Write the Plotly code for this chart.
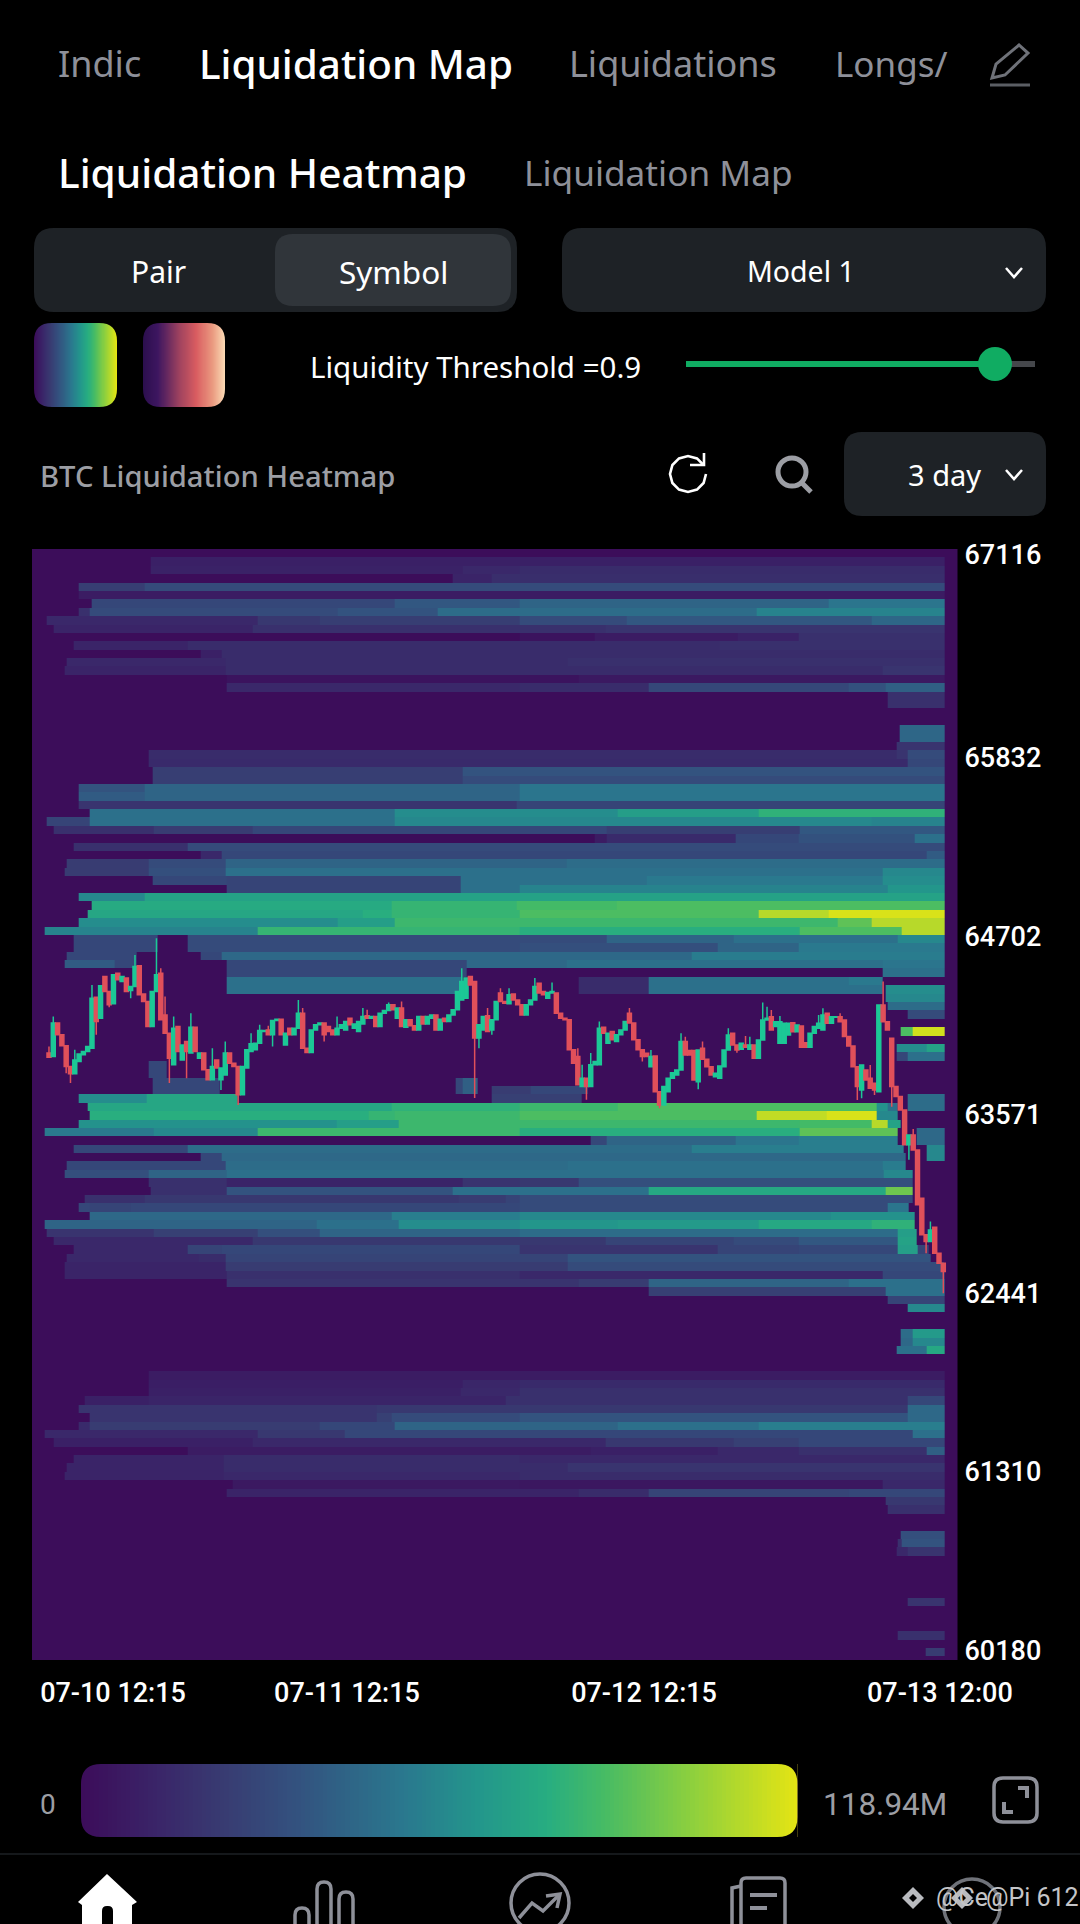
import numpy as np
import plotly.graph_objects as go

W, H = 1080, 1924
BG = "#000000"
PURPLE = "#3c0d5a"
GRAY = "#8e9099"
LIGHT = "#9c9ea4"
PANEL = "#1e2226"

# ---------- data ----------
Y_TICKS = [67116, 65832, 64702, 63571, 62441, 61310, 60180]
X_TICK_POS = [14.9, 69.3, 138.4, 207.2]
X_TICK_TEXT = ["07-10 12:15", "07-11 12:15", "07-12 12:15", "07-13 12:00"]
MAX_LIQ = 118.94
PRICE_TOP = 67154
PRICE_BIN = 53.14
HEAT_END = 208.3

OPEN = [63961,63939,64151,64077,64007,63876,63830,63908,63950,63971,63992,64315,64182,64446,64351,64273,64467,64415,64436,64357,
64383,64514,64336,64288,64129,64351,64467,64203,64087,63887,64129,63918,64034,63961,64125,63929,63961,63855,63792,63918,
63792,63823,63961,63897,63876,63697,63866,63971,63982,64024,64098,64108,64077,64167,64176,64013,64119,64077,64119,64214,
63992,63965,64108,64140,64151,64129,64108,64077,64119,64108,64182,64119,64098,64146,64197,64182,64193,64129,64214,64231,
64267,64182,64246,64125,64172,64134,64108,64193,64146,64182,64203,64108,64182,64161,64203,64235,64298,64309,64446,64414,
64056,64108,64197,64108,64172,64341,64288,64273,64336,64298,64267,64203,64267,64298,64404,64351,64309,64341,64341,64214,
64182,64172,63982,63939,63750,63802,63750,63887,63887,64125,64024,64098,64034,64077,64108,64214,64151,64045,63982,63960,
63875,63943,63717,63633,63717,63802,63823,63854,64034,63977,63977,63780,63992,63922,63875,63812,63802,63875,63981,64087,
64013,63985,64013,63985,64013,63928,64044,64171,64192,64129,64023,64023,64076,64154,64097,64133,64027,63998,64087,64118,
64108,64213,64150,64188,64192,64171,64066,64006,63875,63728,63854,63802,63770,63717,64266,64160,64055,63749,63686,63601,
63380,63443,63348,63042,62810,62768,62858,62694,62630]
CLOSE = [63935,64151,64077,64007,63876,63830,63918,63956,63971,64003,64309,64161,64387,64351,64267,64457,64425,64446,64351,64383,
64509,64330,64288,64129,64351,64457,64172,64087,63929,64119,63971,64013,63971,64125,63971,63961,63855,63792,63876,63866,
63866,63961,63897,63876,63697,63876,63982,64020,64024,64104,64104,64077,64167,64176,64077,64087,64077,64119,64214,63992,
63965,64108,64140,64151,64077,64098,64077,64119,64140,64161,64140,64146,64161,64193,64182,64193,64129,64214,64231,64267,
64235,64246,64129,64172,64134,64108,64193,64146,64193,64203,64108,64176,64161,64203,64235,64351,64414,64436,64393,64056,
64140,64193,64098,64172,64288,64288,64277,64330,64298,64267,64203,64267,64298,64383,64341,64330,64345,64351,64214,64182,
64172,63982,63897,63760,63802,63750,63887,63908,64119,64087,64087,64045,64077,64108,64161,64151,64045,63982,63939,63939,
63939,63717,63633,63749,63802,63837,63854,64034,63949,63949,63791,63981,63922,63875,63823,63833,63880,63981,64076,64013,
63981,64023,63998,64013,63928,64044,64171,64182,64108,64160,64160,64150,64150,64097,64139,63998,63998,64087,64129,64150,
64203,64150,64192,64192,64160,64066,64006,63875,63749,63886,63791,63738,63728,64266,64160,64108,63749,63686,63601,63380,
63443,63348,63000,62810,62768,62841,62694,62630,62578]
WICK_HIGH = {0:64003,1:64193,6:63982,10:64393,20:64583,25:64689,26:64499,27:64319,29:64193,33:64214,38:63992,41:64034,47:64087,49:64140,51:64134,
58:64298,59:64246,67:64193,73:64246,74:64235,79:64281,82:64288,96:64499,102:64246,105:64372,107:64372,113:64436,117:64408,123:63992,124:63887,
126:63961,128:64161,135:64246,140:63981,147:64087,148:64065,152:64034,158:64118,162:64070,163:64065,166:64281,167:64255,168:64234,170:64196,
179:64203,180:64245,184:64213,191:63886,194:64414,201:63481,205:62894}
WICK_LOW = {4:63834,5:63771,11:64077,14:64252,19:64309,28:63771,32:63802,40:63728,44:63633,52:64003,64:64034,99:63676,100:63992,103:64077,
125:63665,138:63908,142:63612,151:63732,160:63964,188:63664,189:63675,192:63696,196:63622,200:63285,204:62694,208:62440}

# liquidation bands: row -> (start period, value in millions), each runs to the next start
HEAT = {
1:[(23.6,10)], 2:[(23.6,11),(96.3,14),(109.5,16)], 3:[(93.8,12),(102.9,17)], 4:[(7,25),(22.3,32)], 5:[(7,8)],
6:[(9.9,30),(80.5,38),(109.5,44),(181.3,52)], 7:[(7,18),(9.5,32),(67.2,36),(90.4,48),(164.7,58)],
8:[(-0.5,14),(48.5,22),(63,25),(109.5,32),(134.4,38),(191.3,45)], 9:[(1.2,12),(47.3,18),(129.4,20)],
10:[(109.5,3),(127,8),(160.2,11),(174.3,18)], 11:[(5.7,12),(32.3,16),(156,18)], 12:[(35.2,10),(40.2,16)],
13:[(4.1,14),(41,16),(120.7,18)], 14:[(3.7,12),(41,16),(193.8,20)], 15:[(41.4,3),(123.2,6)],
16:[(41.4,14),(109.5,16),(139.4,30),(185.9,35),(194.6,42)], 17:[(195,18)], 18:[(195,18)],
21:[(197.8,45)], 22:[(197.8,45)], 23:[(197.1,20)], 24:[(23.2,16),(197.1,20),(199.6,32)], 25:[(23.2,15),(199.6,30)],
26:[(24,25),(96.3,36)], 27:[(24,25),(96.3,32)], 28:[(7,36),(22.3,44),(109.5,52)], 29:[(7,40),(22.3,44),(109.5,52)],
30:[(7,20),(108.7,28)], 31:[(9.5,50),(80.5,62),(132.3,70),(165.1,80)], 32:[(-0.5,28),(9.5,50),(80.5,60),(191.3,58)],
33:[(1.2,18),(24.4,24),(47.3,30),(129.8,25),(174.7,38)], 34:[(127,8),(129.8,15),(159.7,30),(174.3,35),(201.3,50)],
35:[(5.7,18),(32.3,32)], 36:[(35.2,14),(40.2,30),(204.2,40)], 37:[(4.1,24),(23.2,32),(41,44),(120.3,48)],
38:[(3.7,24),(23.2,34),(41,50),(193.8,60)], 39:[(24,30),(41.4,28),(95.8,50),(139,54),(193.8,62)],
40:[(41.4,28),(95.8,50),(109.5,58),(195,66)], 41:[(7,60),(22.3,72)], 42:[(9.9,76),(79.7,82),(108.7,86),(132,88)],
43:[(9,74),(73,78),(79.7,82),(109.5,88),(165.1,110),(181.3,117)], 44:[(7,62),(67.2,70),(80.5,84),(183.4,92),(191.3,110)],
45:[(-1,58),(48.5,82),(109.5,78),(174.7,88),(198.4,110)], 46:[(5.7,30),(25.2,0),(32.3,32),(129.8,44),(159.3,50),(197.5,60)],
47:[(5.7,30),(25.2,0),(32.3,32),(109.5,34),(155.6,44),(174.3,54)], 48:[(4.1,30),(20.3,0),(35.2,30),(40.2,46),(149.4,55)],
49:[(3.7,40),(15.3,30),(20.3,0),(41.4,30),(97.1,46),(120.3,50),(193.8,52)], 50:[(41.4,30),(97.1,0),(193.8,50)],
51:[(41.4,50),(96.3,0),(123.2,16),(139.4,50),(185.9,54),(193.8,0)], 52:[(41.4,50),(96.3,0),(123.2,16),(139.4,50),(193.8,0),(194.6,62)],
53:[(194.6,60)], 54:[(195,48)], 55:[(199.6,32)], 57:[(198,88),(200.9,115)], 59:[(197.1,62),(204.2,72)], 60:[(197.1,30),(199.6,50)],
61:[(23.2,30),(27.3,0)], 62:[(23.2,30),(27.3,0)], 63:[(24,30),(39.8,0),(94.6,30),(96.3,42),(99.6,0)],
64:[(24,30),(39.8,0),(94.6,30),(96.3,42),(99.6,0),(102.9,24),(112,30),(125.3,0)],
65:[(7,62),(22.8,74),(44,0),(102.9,26),(124,0),(199.6,48)], 66:[(9,74),(79.7,80),(109.5,84),(132.3,88),(192.6,64),(195,50),(197.5,0),(199.6,48)],
67:[(9.5,78),(74.3,82),(80.5,84),(109.5,88),(164.7,112),(180.9,117),(192.6,60),(197.5,0)],
68:[(7,64),(66.8,70),(81.3,84),(174.7,86),(191.3,110),(195,72),(198,0)],
69:[(-1,54),(24.4,60),(48.5,84),(109.5,78),(174.7,92),(197.5,0),(201.7,46)],
70:[(126.1,30),(129.8,44),(159.7,52),(174.3,56),(197.5,0),(201.7,46)], 71:[(5.7,30),(32.3,48),(149.4,56),(198.8,0),(204.2,60)],
72:[(35.2,30),(40.2,46),(199.2,0),(204.2,60)], 73:[(4.1,30),(41,48),(120.7,50),(193.8,55),(199.2,0)],
74:[(3.7,34),(23.2,44),(41.4,50),(194.2,60),(200.9,0)], 75:[(23.2,18),(41.4,12),(96.3,20),(109.5,22),(123.2,34),(200.9,0)],
76:[(23.6,18),(41.4,36),(93.8,50),(139.4,75),(194.6,95),(200.9,0)], 77:[(8.2,18),(22.3,22),(95.4,24),(106.2,28),(109.5,32),(200.9,0)],
78:[(7,30),(9.5,28),(19,30),(109.5,32),(195,52),(200,0)], 79:[(9.5,46),(79.7,56),(109.5,60),(181.8,64),(201.3,0)],
80:[(-1,44),(62.2,50),(81.3,62),(109.5,66),(132.3,68),(165.1,75),(191.3,80),(201.3,0)], 81:[(-0.5,20),(24.4,26),(48.5,34),(63,44),(109.5,48),(197.5,70),(201.7,0)],
82:[(1.2,14),(47.3,22),(129.4,28),(159.3,32),(174.3,38),(197.5,72),(201.7,0)],
83:[(5.7,14),(32.3,28),(40.2,30),(109.5,20),(155.6,28),(174.3,30),(197.5,70),(202.1,28),(204.6,0)],
84:[(4.1,14),(34.8,16),(41,28),(120.6,36),(205,0)], 85:[(3.7,12),(41,24),(120.6,32),(208,0)], 86:[(3.7,12),(41.4,18),(109.5,14),(193.8,30)],
87:[(41.4,20),(123.2,24),(139.4,44),(185.9,50)], 88:[(139.4,26),(194.6,50)], 89:[(195,28)], 90:[(199.6,60)],
93:[(198,48),(200.9,68)], 94:[(198,46),(200.9,60)], 95:[(197.1,50),(204.2,75)],
98:[(23.2,8)], 99:[(23.2,9),(96.3,13),(109.5,15)], 100:[(23.2,10),(95.8,14),(109.5,18)], 101:[(8.2,10),(23.2,12),(106.2,18),(199.6,30)],
102:[(7,20),(76.3,22),(199.6,46)], 103:[(9.5,20),(76.3,26),(79.7,32),(109.5,36),(199.6,46)], 104:[(7,15),(9.5,24),(63,30),(80.5,44),(132.3,50),(165.1,56)],
105:[(-1,14),(48.5,22),(68.8,30),(200.9,50)], 106:[(1.2,10),(47.3,14),(129.4,22),(159.3,26),(174.3,30)],
107:[(32.3,8),(126.1,10),(155.6,14),(174.3,18),(204.2,42)], 108:[(5.7,12),(40.6,16),(109.5,14)], 109:[(4.1,12),(40.6,16),(120.7,20)],
110:[(3.7,12),(40.6,14),(109.5,16)], 111:[(42.7,6),(109.5,5),(193.8,14)], 112:[(41.4,12),(123.2,16),(139.4,28),(185.9,30)],
113:[(194.6,22)], 114:[(195,18)], 117:[(198,34)], 118:[(197.5,18),(198.4,36)], 119:[(197.1,14),(199.6,20)],
125:[(199.6,20)], 129:[(197.5,18)], 131:[(204,24)],
}

COLORSCALE = [[0,"#3c0d5a"],[0.1,"#3a2468"],[0.2,"#383c72"],[0.3,"#33527f"],[0.45,"#2a788e"],[0.55,"#23958c"],
              [0.65,"#27ad81"],[0.73,"#46bb65"],[0.85,"#8bcf3f"],[1,"#e3e414"]]
COLORSCALE_2 = [[0,"#2c0f4e"],[0.18,"#3d1660"],[0.45,"#a0435f"],[0.65,"#d95c60"],[0.85,"#ea9a80"],[1,"#fbd9b4"]]

# ---------- helpers ----------
def X(px): return px / W
def Y(py): return 1 - py / H

def rrect(x0, y0, x1, y1, r):
    return (f"M{X(x0+r):.5f},{Y(y0):.5f} L{X(x1-r):.5f},{Y(y0):.5f} Q{X(x1):.5f},{Y(y0):.5f} {X(x1):.5f},{Y(y0+r):.5f} "
            f"L{X(x1):.5f},{Y(y1-r):.5f} Q{X(x1):.5f},{Y(y1):.5f} {X(x1-r):.5f},{Y(y1):.5f} "
            f"L{X(x0+r):.5f},{Y(y1):.5f} Q{X(x0):.5f},{Y(y1):.5f} {X(x0):.5f},{Y(y1-r):.5f} "
            f"L{X(x0):.5f},{Y(y0+r):.5f} Q{X(x0):.5f},{Y(y0):.5f} {X(x0+r):.5f},{Y(y0):.5f} Z")

def poly(points, close=False):
    s = "M" + " L".join(f"{X(x):.5f},{Y(y):.5f}" for x, y in points)
    return s + (" Z" if close else "")

shapes = []
def fill_path(path, color, layer="above"):
    shapes.append(dict(type="path", path=path, xref="paper", yref="paper", fillcolor=color, line=dict(width=0), layer=layer))
def line_path(path, color, width):
    shapes.append(dict(type="path", path=path, xref="paper", yref="paper", line=dict(color=color, width=width), layer="above"))
def circle(cx, cy, r, color=None, line=None, width=0):
    shapes.append(dict(type="circle", xref="paper", yref="paper", x0=X(cx-r), x1=X(cx+r), y0=Y(cy+r), y1=Y(cy-r),
                       fillcolor=color or "rgba(0,0,0,0)", line=dict(color=line or "rgba(0,0,0,0)", width=width), layer="above"))
def corners(x0, y0, x1, y1, r):
    for cx, cy, sx, sy in [(x0,y0,1,1),(x1,y0,-1,1),(x0,y1,1,-1),(x1,y1,-1,-1)]:
        p = (f"M{X(cx):.5f},{Y(cy):.5f} L{X(cx+sx*r):.5f},{Y(cy):.5f} Q{X(cx):.5f},{Y(cy):.5f} {X(cx):.5f},{Y(cy+sy*r):.5f} Z")
        fill_path(p, BG)

annos = []
def text(s, x, y, size, color="#ffffff", anchor="center", font="Noto Sans", weight=400):
    annos.append(dict(text=s, x=X(x), y=Y(y), xref="paper", yref="paper", xanchor=anchor, yanchor="middle", showarrow=False,
                      font=dict(family=font, size=size, color=color, weight=weight)))

def chevron(cx, cy):
    line_path(poly([(cx-8, cy-4), (cx, cy+5), (cx+8, cy-4)]), "#ffffff", 2.5)

# ---------- heat grid ----------
rows_n = 132
edges = sorted({p for segs in HEAT.values() for p, _ in segs} | {HEAT_END})
centers = [(a + b) / 2 for a, b in zip(edges[:-1], edges[1:])]
z = []
for r in range(rows_n - 1, -1, -1):
    segs = HEAT.get(r, [])
    row = []
    for c in centers:
        v = 0
        for p, val in segs:
            if p <= c:
                v = val
        row.append(v)
    z.append(row)
price_edges = [PRICE_TOP - (rows_n - i) * PRICE_BIN for i in range(rows_n + 1)]

fig = go.Figure()
fig.add_trace(go.Heatmap(x=edges, y=price_edges, z=z, zmin=0, zmax=MAX_LIQ, colorscale=COLORSCALE, showscale=False, hoverinfo="skip"))

idx = list(range(len(CLOSE)))
high = [WICK_HIGH.get(i, max(OPEN[i], CLOSE[i])) for i in idx]
low = [WICK_LOW.get(i, min(OPEN[i], CLOSE[i])) for i in idx]
fig.add_trace(go.Candlestick(x=idx, open=OPEN, high=high, low=low, close=CLOSE, whiskerwidth=0,
    increasing=dict(line=dict(color="#1cc896", width=1.5), fillcolor="#1cc896"),
    decreasing=dict(line=dict(color="#e0505a", width=1.5), fillcolor="#e0505a"), hoverinfo="skip", showlegend=False))

# gradient legend and palette swatches
grad = np.linspace(0, 1, 160).tolist()
fig.add_trace(go.Heatmap(z=[[g * MAX_LIQ for g in grad]], zmin=0, zmax=MAX_LIQ, colorscale=COLORSCALE, showscale=False, hoverinfo="skip", xaxis="x2", yaxis="y2"))
fig.add_trace(go.Heatmap(z=[grad], zmin=0, zmax=1, colorscale=COLORSCALE, showscale=False, hoverinfo="skip", xaxis="x3", yaxis="y3"))
fig.add_trace(go.Heatmap(z=[grad], zmin=0, zmax=1, colorscale=COLORSCALE_2, showscale=False, hoverinfo="skip", xaxis="x4", yaxis="y4"))

def dom(a, b, size): return [a / size, b / size]
def ydom(top, bottom): return [1 - bottom / H, 1 - top / H]
hidden = dict(visible=False, fixedrange=True, automargin=False)

# ---------- chrome ----------
text("Indic", 99, 63, 36, GRAY)
text("Liquidation Map", 356, 63, 40.4, "#ffffff", weight=500)
text("Liquidations", 673, 63, 36, GRAY)
text("Longs/", 833, 63, 35, GRAY, anchor="left")
line_path(poly([(990,85),(1030,85)]), "#5b5e64", 3)
line_path(poly([(992,78),(996,64),(1019,45),(1028,53),(1005,75)], close=True), "#6f7279", 3)

text("Liquidation Heatmap", 262, 172, 40.6, "#ffffff", weight=500)
text("Liquidation Map", 658, 172, 35.2, GRAY)

fill_path(rrect(34,228,517,312,20), PANEL, "below")
fill_path(rrect(275,234,511,306,18), "#30353a", "below")
fill_path(rrect(562,228,1046,312,20), PANEL, "below")
text("Pair", 158, 271, 30)
text("Symbol", 393, 271, 31.5)
text("Model 1", 801, 271, 28.5)
chevron(1014, 272)
corners(34,323,117,407,18)
corners(143,323,225,407,18)
text("Liquidity Threshold =0.9", 475, 366, 29.5)
shapes.append(dict(type="rect", xref="paper", yref="paper", x0=X(995), x1=X(1035), y0=Y(367), y1=Y(361), fillcolor="#45474b", line=dict(width=0)))
shapes.append(dict(type="rect", xref="paper", yref="paper", x0=X(686), x1=X(995), y0=Y(367), y1=Y(361), fillcolor="#10ac62", line=dict(width=0)))
circle(995, 364, 17, "#10ac62")

text("BTC Liquidation Heatmap", 217, 476, 29.2, LIGHT, weight=500)
# refresh icon: open ring with arrow head
REFRESH_DEG = [-30, -60, -90, -120, -150, -180, -210, -240, -270, -300, -330, -360]
line_path(poly([(688 + 18*np.cos(np.radians(a)), 474 + 18*np.sin(np.radians(a))) for a in REFRESH_DEG]), "#ffffff", 2.6)
line_path(poly([(690,465),(704,465),(704,453)]), "#ffffff", 2.6)
circle(792, 472, 14, line=LIGHT, width=5)
line_path(poly([(802,483),(811,492)]), LIGHT, 5)
fill_path(rrect(844,432,1046,516,18), PANEL, "below")
text("3 day", 944, 475, 29)
chevron(1014, 474)

corners(81,1764,797.5,1837,20)
text("0", 48, 1804, 28, LIGHT, font="Roboto")
text("118.94M", 885, 1804, 31.5, LIGHT, font="Roboto")
line_path(rrect(994,1778,1037,1822,9), "#8e9099", 3.5)
fill_path(poly([(1018,1786),(1029,1786),(1029,1798),(1025,1798),(1025,1790),(1018,1790)], close=True), "#8e9099")
fill_path(poly([(1002,1802),(1006,1802),(1006,1810),(1013,1810),(1013,1814),(1002,1814)], close=True), "#8e9099")
shapes.append(dict(type="line", xref="paper", yref="paper", x0=0, x1=1, y0=Y(1854), y1=Y(1854), line=dict(color="#1d2125", width=1.5)))

# bottom navigation
fill_path(poly([(107,1874),(137,1902),(132,1905),(132,1924),(82,1924),(82,1905),(78,1902)], close=True), "#ffffff")
fill_path(rrect(102,1906,113,1940,5), BG)
for cx, top in [(302,1908),(324,1882),(346,1892)]:
    line_path(rrect(cx-7, top, cx+7, 1950, 7), GRAY, 3.5)
circle(540, 1903, 29, line=GRAY, width=3.5)
line_path(poly([(519,1918),(532,1903),(543,1911),(558,1896)]), GRAY, 3.5)
line_path(poly([(546,1896),(560,1894),(557,1908)]), GRAY, 3.5)
line_path(rrect(741,1878,785,1950,5), GRAY, 3.5)
line_path(poly([(732,1924),(732,1888),(741,1886)]), GRAY, 3.5)
line_path(poly([(750,1895),(777,1895)]), GRAY, 4)
line_path(poly([(750,1908),(767,1908)]), GRAY, 4)
circle(972, 1907, 28, line="#6f7279", width=3.5)
for dx in (913, 962):
    fill_path(poly([(dx,1887),(dx+11,1898),(dx,1909),(dx-11,1898)], close=True), "#b9bbbf")
    fill_path(poly([(dx,1894),(dx+4,1898),(dx,1902),(dx-4,1898)], close=True), BG)
text("@Ce", 934, 1897, 25, "#c4c5c8", anchor="left", font="Roboto")
text("@Pi 612", 984, 1897, 25, "#c4c5c8", anchor="left", font="Roboto")

tick_font = dict(family="Roboto", size=27, color="#ffffff", weight=500)
fig.update_layout(
    width=W, height=H, autosize=False, margin=dict(l=0, r=0, t=0, b=0, pad=0),
    paper_bgcolor=BG, plot_bgcolor=PURPLE, showlegend=False, shapes=shapes, annotations=annos, hovermode=False,
    boxgap=0.08, boxgroupgap=0,
    xaxis=dict(domain=dom(32, 957.5, W), range=[-3.95, 211.3], tickmode="array", tickvals=X_TICK_POS, ticktext=X_TICK_TEXT,
               tickfont=tick_font, ticks="", showgrid=False, zeroline=False, showline=False, rangeslider=dict(visible=False),
               anchor="y", fixedrange=True, ticklabelstandoff=14, tickangle=0, automargin=False),
    yaxis=dict(domain=ydom(549, 1660), range=[60117, PRICE_TOP], side="right", tickmode="array", tickvals=Y_TICKS,
               ticktext=[str(v) for v in Y_TICKS], tickfont=tick_font, ticks="", showgrid=False, zeroline=False, showline=False,
               anchor="x", fixedrange=True, ticklabelstandoff=6, automargin=False),
    xaxis2=dict(domain=dom(81, 797.5, W), anchor="y2", **hidden), yaxis2=dict(domain=ydom(1764, 1837), anchor="x2", **hidden),
    xaxis3=dict(domain=dom(34, 117, W), anchor="y3", **hidden), yaxis3=dict(domain=ydom(323, 407), anchor="x3", **hidden),
    xaxis4=dict(domain=dom(143, 225, W), anchor="y4", **hidden), yaxis4=dict(domain=ydom(323, 407), anchor="x4", **hidden),
)
fig.write_html("out.html", config=dict(displayModeBar=False), post_script="document.body.style.margin='0';document.body.style.background='#000';")
